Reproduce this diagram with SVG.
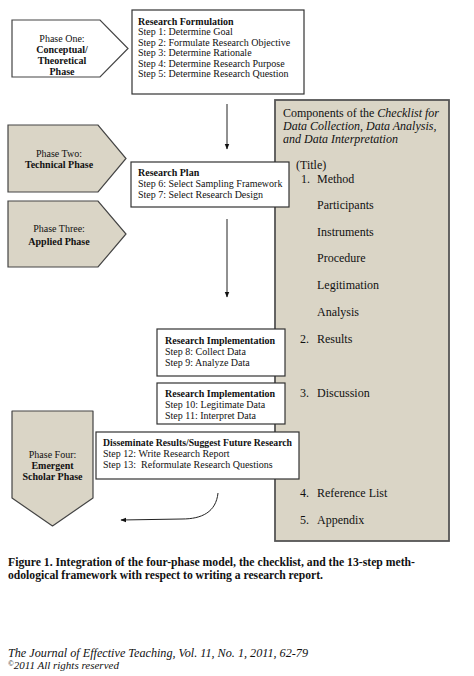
<svg xmlns="http://www.w3.org/2000/svg" width="474" height="676" viewBox="0 0 474 676" font-family="'Liberation Serif', 'DejaVu Serif', serif">
<style>
text{font-family:'Liberation Serif','DejaVu Serif',serif;fill:#111;}
.s{font-size:10px;}
.b{font-weight:bold;}
.c{text-anchor:middle;}
.k{font-size:12px;}
.box{fill:#fff;stroke:#333;stroke-width:1.2;}
.ph{fill:#dad5c6;stroke:#444;stroke-width:1.2;}
.phw{fill:#fff;stroke:#444;stroke-width:1.2;}
.con{fill:none;stroke:#222;stroke-width:1;}
.i{font-style:italic;}
</style>
<defs>
<marker id="ah" viewBox="0 0 10 10" refX="9" refY="5" markerWidth="6" markerHeight="6" orient="auto" markerUnits="userSpaceOnUse">
<path d="M0,1 L10,5 L0,9 Z" fill="#111"/>
</marker>
</defs>
<rect width="474" height="676" fill="#fff"/>

<g id="checklist">
<rect x="275" y="100" width="174" height="441" fill="#dad5c6" stroke="#555" stroke-width="1.8"/>
<text class="k" x="283" y="117">Components of the <tspan class="i">Checklist for</tspan></text>
<text class="k i" x="283" y="130">Data Collection, Data Analysis,</text>
<text class="k i" x="283" y="143">and Data Interpretation</text>
<text class="k" x="296" y="169">(Title)</text>
<text class="k" x="301" y="183">1.</text><text class="k" x="317" y="183">Method</text>
<text class="k" x="317" y="209">Participants</text>
<text class="k" x="317" y="236">Instruments</text>
<text class="k" x="317" y="262">Procedure</text>
<text class="k" x="317" y="289">Legitimation</text>
<text class="k" x="317" y="316">Analysis</text>
<text class="k" x="300" y="343">2.</text><text class="k" x="317" y="343">Results</text>
<text class="k" x="300" y="397">3.</text><text class="k" x="317" y="397">Discussion</text>
<text class="k" x="300" y="497">4.</text><text class="k" x="317" y="497">Reference List</text>
<text class="k" x="300" y="524">5.</text><text class="k" x="317" y="524">Appendix</text>
</g>

<g id="phase1">
<polygon class="phw" points="12,20 100,20 128,48.5 100,77 12,77"/>
<text class="s c" x="62" y="42">Phase One:</text>
<text class="s c b" x="62" y="53">Conceptual/</text>
<text class="s c b" x="62" y="64">Theoretical</text>
<text class="s c b" x="62" y="75">Phase</text>
</g>

<g id="phase2">
<polygon class="ph" points="8,125 98,125 126,158.5 98,192 8,192"/>
<text class="s c" x="59" y="157">Phase Two:</text>
<text class="s c b" x="59" y="168">Technical Phase</text>
</g>

<g id="phase3">
<polygon class="ph" points="8,201 98,201 126,234 98,267 8,267"/>
<text class="s c" x="59" y="232">Phase Three:</text>
<text class="s c b" x="59" y="245">Applied Phase</text>
</g>

<g id="phase4">
<polygon class="ph" points="12,411 93,411 93,498 52.5,526 12,498" stroke-linejoin="round"/>
<text class="s c" x="52.5" y="458">Phase Four:</text>
<text class="s c b" x="52.5" y="469">Emergent</text>
<text class="s c b" x="52.5" y="480">Scholar Phase</text>
</g>

<g id="formulation">
<rect class="box" x="132" y="10" width="172" height="84"/>
<text class="s b" x="138" y="25">Research Formulation</text>
<text class="s" x="138" y="35">Step 1: Determine Goal</text>
<text class="s" x="138" y="45.5">Step 2: Formulate Research Objective</text>
<text class="s" x="138" y="56">Step 3: Determine Rationale</text>
<text class="s" x="138" y="66.5">Step 4: Determine Research Purpose</text>
<text class="s" x="138" y="77">Step 5: Determine Research Question</text>
</g>

<g id="plan">
<rect class="box" x="131" y="162" width="158" height="45"/>
<text class="s b" x="138" y="176">Research Plan</text>
<text class="s" x="138" y="187">Step 6: Select Sampling Framework</text>
<text class="s" x="138" y="198">Step 7: Select Research Design</text>
</g>

<g id="implementation1">
<rect class="box" x="157" y="329" width="128" height="47"/>
<text class="s b" x="165" y="344">Research Implementation</text>
<text class="s" x="165" y="355">Step 8: Collect Data</text>
<text class="s" x="165" y="366">Step 9: Analyze Data</text>
</g>

<g id="implementation2">
<rect class="box" x="157" y="383" width="128" height="41"/>
<text class="s b" x="165" y="397">Research Implementation</text>
<text class="s" x="165" y="408">Step 10: Legitimate Data</text>
<text class="s" x="165" y="419">Step 11: Interpret Data</text>
</g>

<g id="disseminate">
<rect class="box" x="96" y="432" width="203" height="47"/>
<text class="s b" x="103" y="446" textLength="189" lengthAdjust="spacingAndGlyphs">Disseminate Results/Suggest Future Research</text>
<text class="s" x="103" y="457">Step 12: Write Research Report</text>
<text class="s" x="103" y="468" xml:space="preserve">Step 13:  Reformulate Research Questions</text>
</g>

<g id="connectors">
<line class="con" x1="227" y1="104" x2="227" y2="149" marker-end="url(#ah)"/>
<line class="con" x1="227" y1="219" x2="227" y2="297" marker-end="url(#ah)"/>
<path class="con" d="M218,493 C216,512 202,519 182,519 L121,520" marker-end="url(#ah)"/>
</g>

<g id="caption">
<text class="b" x="8" y="566" font-size="11.5" textLength="407" lengthAdjust="spacingAndGlyphs">Figure 1. Integration of the four-phase model, the checklist, and the 13-step meth-</text>
<text class="b" x="8" y="579" font-size="11.5" textLength="315" lengthAdjust="spacingAndGlyphs">odological framework with respect to writing a research report.</text>
<text class="i" x="8" y="657" font-size="11.5" textLength="300" lengthAdjust="spacingAndGlyphs">The Journal of Effective Teaching, Vol. 11, No. 1, 2011, 62-79</text>
<text class="i" x="8" y="669" font-size="11"><tspan font-size="7.5" dy="-3">©</tspan><tspan dy="3">2011 All rights reserved</tspan></text>
</g>
</svg>
